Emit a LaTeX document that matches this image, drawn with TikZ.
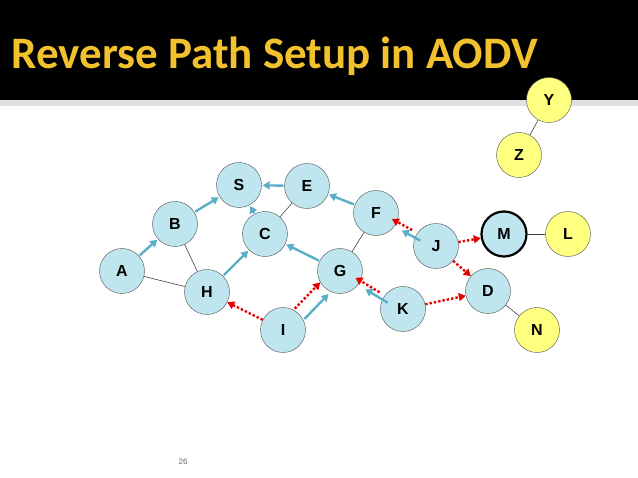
\documentclass[tikz,border=0pt]{standalone}
\usepackage{fontspec}
\setmainfont{Liberation Sans}
\newfontfamily\titlefont{Carlito}
\usetikzlibrary{arrows.meta}
\definecolor{nodeblue}{HTML}{BFE6EE}
\definecolor{edgeblue}{HTML}{5AAFC8}
\definecolor{ylw}{HTML}{FFFF80}
\definecolor{gold}{HTML}{F2C12E}
\tikzset{
  nd/.style={circle,draw=black!70,fill=nodeblue,minimum size=45pt,inner sep=0pt,font=\bfseries\fontsize{16}{16}\selectfont},
  yn/.style={nd,fill=ylw},
  plain/.style={draw=black!75,line width=0.6pt},
  rev/.style={draw=edgeblue,line width=2.4pt,-{Triangle[length=7pt,width=8pt]},shorten >=1pt,shorten <=1pt},
  rreq/.style={draw=red!90!black,line width=2.4pt,dotted,-{Triangle[length=7pt,width=8pt]}},
}
\begin{document}
\begin{tikzpicture}[x=1pt,y=-1pt]
\useasboundingbox (0,0) rectangle (638,478);
\fill[black!12] (0,100) rectangle (638,106);
\fill[black] (0,0) rectangle (638,100);
\node[anchor=west,text=gold,font=\titlefont\bfseries\fontsize{45}{48}\selectfont] (title) at (8,56) {Reverse Path Setup in AODV};
\node[text=black!60,font=\fontsize{8}{8}\selectfont] (pg) at (183,462) {26};
\node[yn] (Y) at (549,100) {Y};
\node[yn] (Z) at (519,155) {Z};
\node[nd] (S) at (239,185) {S};
\node[nd] (E) at (307,186) {E};
\node[nd] (B) at (175,224) {B};
\node[nd] (C) at (265,234) {C};
\node[nd] (F) at (376,213) {F};
\node[nd] (J) at (436,246) {J};
\node[nd,line width=2.2pt,draw=black] (M) at (504,234) {M};
\node[yn] (L) at (568,234) {L};
\node[nd] (A) at (122,271) {A};
\node[nd] (H) at (207,292) {H};
\node[nd] (G) at (340,271) {G};
\node[nd] (D) at (488,291) {D};
\node[nd] (K) at (403,309) {K};
\node[nd] (I) at (283,330) {I};
\node[yn] (N) at (537,330) {N};
\draw[plain] (Y) -- (Z);
\draw[plain] (A) -- (H);
\draw[plain] (B) -- (H);
\draw[plain] (C) -- (E);
\draw[plain] (F) -- (G);
\draw[plain] (M) -- (L);
\draw[plain] (D) -- (N);
\draw[rev] (A) -- (B);
\draw[rev] (B) -- (S);
\draw[rev] (H) -- (C);
\draw[rev] (C) -- (S);
\draw[rev] (E) -- (S);
\draw[rev] (F) -- (E);
\draw[rev] (G) -- (C);
\begin{scope}[transform canvas={shift={(5,6)}}]
\draw[rev] (I) -- (G);
\draw[rev] (K) -- (G);
\draw[rev] (J) -- (F);
\end{scope}
\begin{scope}[transform canvas={shift={(-4,-5)}}]
\draw[rreq] (I) -- (G);
\draw[rreq] (K) -- (G);
\draw[rreq] (J) -- (F);
\end{scope}
\draw[rreq] (I) -- (H);
\draw[rreq] (J) -- (M);
\draw[rreq] (J) -- (D);
\draw[rreq] (K) -- (D);
\end{tikzpicture}
\end{document}
